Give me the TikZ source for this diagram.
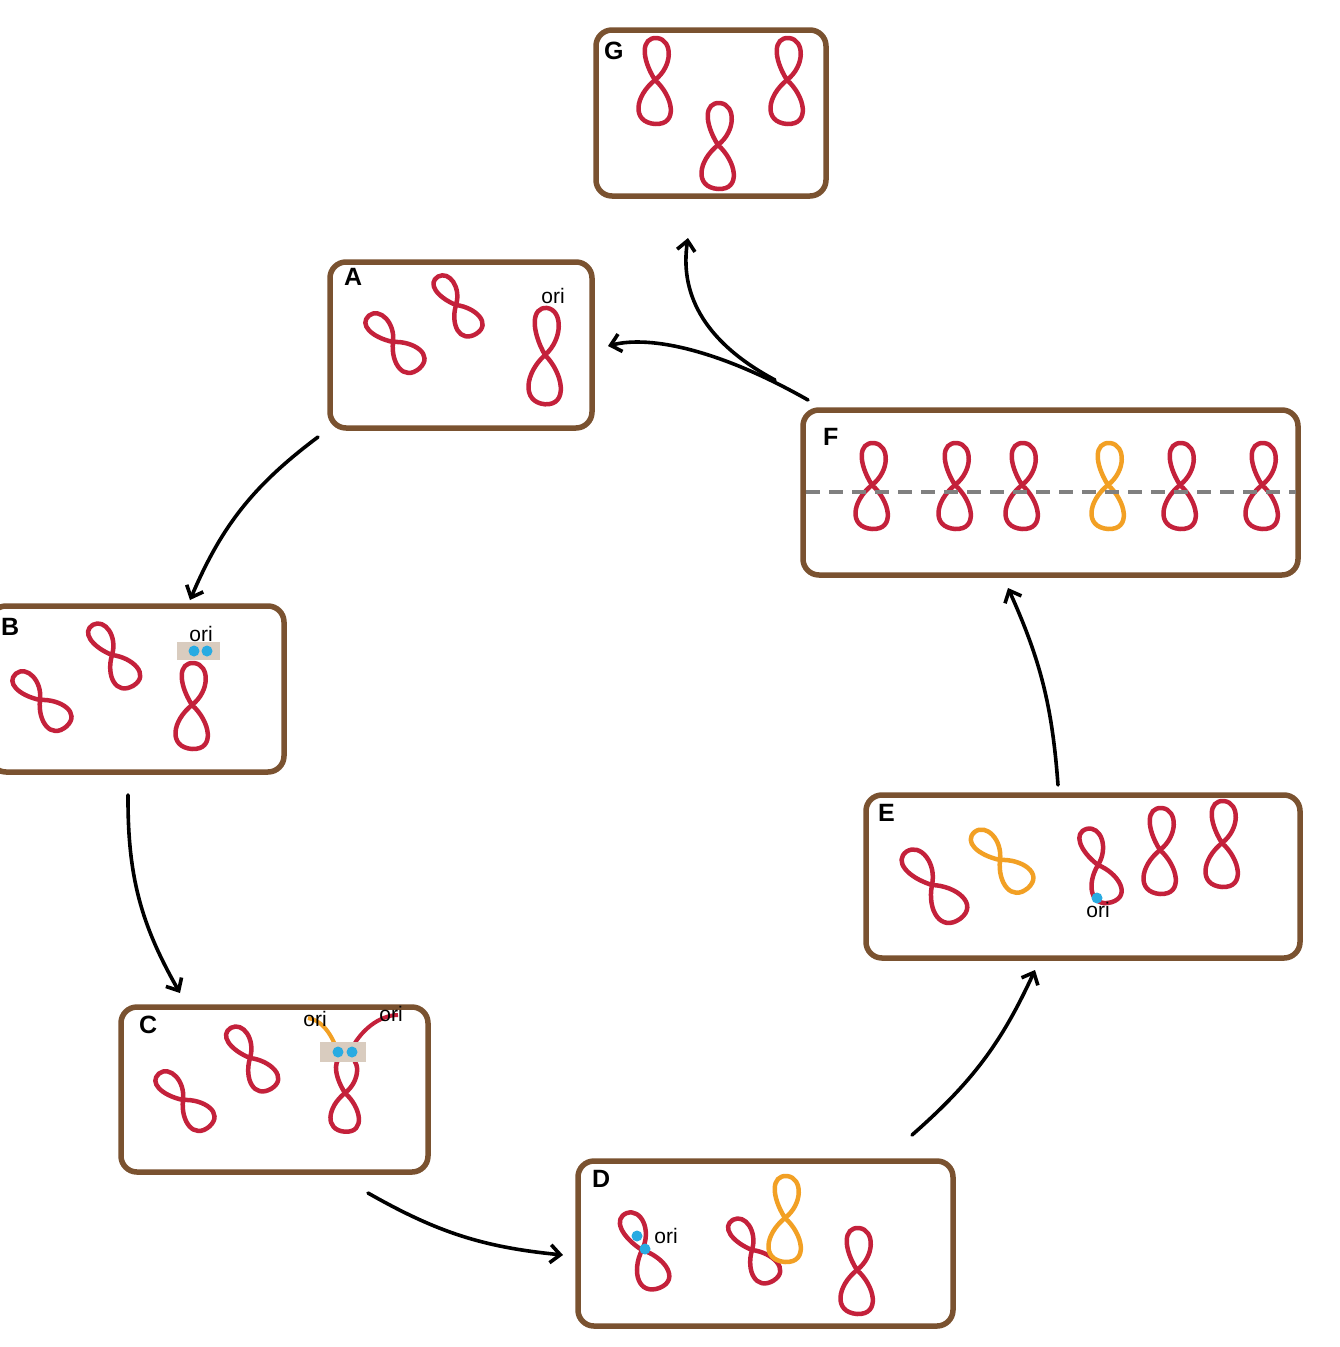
\documentclass[tikz,border=0pt]{standalone}
\usepackage{fontspec}
\setmainfont{Liberation Sans}
\usetikzlibrary{arrows.meta}
\definecolor{dred}{HTML}{C4213B}
\definecolor{dorg}{HTML}{F2A024}
\definecolor{brn}{HTML}{7A5230}
\definecolor{cyn}{HTML}{29ABE2}
\tikzset{
 cell/.style={draw=brn,line width=5.5pt,rounded corners=16pt,fill=white},
 lab/.style={font=\bfseries\fontsize{25}{27}\selectfont,anchor=north west,inner sep=0pt},
 ori/.style={font=\fontsize{21}{23}\selectfont,inner sep=0pt},
 arr/.style={draw=black,line width=3.6pt,line cap=round,-{Straight Barb[length=10pt,width=18pt,line width=3.6pt]}},
 eight/.pic={\draw[pic actions,line width=4.5pt,line join=round] (0,0) .. controls (18,-14) and (18,-40) .. (2,-42) .. controls (-14,-43) and (-14,-22) .. (0,0) .. controls (-20,16) and (-24,42) .. (0,44) .. controls (24,45) and (18,16) .. (0,0);}
}
\begin{document}
\begin{tikzpicture}[x=1pt,y=-1pt]
\useasboundingbox (0,0) rectangle (1340,1347);
% cells
\draw[cell] (596,30) rectangle (826,196);
\draw[cell] (330,262) rectangle (592,428);
\draw[cell] (803,410) rectangle (1298,575);
\draw[cell] (-10,606) rectangle (284,772);
\draw[cell] (866,795) rectangle (1300,958);
\draw[cell] (121,1007) rectangle (428,1172);
\draw[cell] (578,1161) rectangle (953,1326);
% labels
\node[lab] (lG) at (604,42) {G};
\node[lab] (lA) at (344,268) {A};
\node[lab] (lF) at (823,428) {F};
\node[lab] (lB) at (1,618) {B};
\node[lab] (lE) at (878,804) {E};
\node[lab] (lC) at (139,1016) {C};
\node[lab] (lD) at (592,1170) {D};
% G
\pic[dred] at (655,80) {eight};
\pic[dred] at (787,80) {eight};
\pic[dred] at (718,145) {eight};
% A
\pic[dred,rotate=45,scale=0.85] at (393,342) {eight};
\pic[dred,rotate=35,scale=0.8] at (456,305) {eight};
\pic[dred,yscale=1.12] at (545,355) {eight};
\node[ori] (oA) at (553,296) {ori};
% B
\pic[dred,rotate=45,scale=0.85] at (40,700) {eight};
\pic[dred,rotate=35,scale=0.85] at (112,655) {eight};
\pic[dred,yscale=1.0] at (192,705) {eight};
\fill[gray!50!brown!40] (177,642) rectangle (220,660);
\fill[cyn] (194,651) circle (5.5) (207,651) circle (5.5);
\node[ori] (oB) at (201,634) {ori};
% C
\pic[dred,rotate=45,scale=0.85] at (183,1100) {eight};
\pic[dred,rotate=35,scale=0.85] at (250,1058) {eight};
\pic[dred,scale=0.88] at (345,1093) {eight};
\draw[dorg,line width=4pt] (338,1052) .. controls (330,1030) and (320,1020) .. (308,1018);
\draw[dred,line width=4pt] (350,1052) .. controls (360,1030) and (380,1015) .. (398,1015);
\fill[gray!50!brown!40] (320,1042) rectangle (366,1062);
\fill[cyn] (338,1052) circle (5.5) (352,1052) circle (5.5);
\node[ori] (oC1) at (315,1019) {ori};
\node[ori] (oC2) at (391,1014) {ori};
% D
\pic[dred,rotate=25,scale=0.95] at (642,1250) {eight};
\fill[cyn] (637,1236) circle (5.5) (645,1249) circle (5.5);
\node[ori] (oD) at (666,1236) {ori};
\pic[dred,rotate=35,scale=0.85] at (752,1250) {eight};
\pic[dorg] at (785,1218) {eight};
\pic[dred] at (857,1270) {eight};
% E
\pic[dred,rotate=40] at (932,885) {eight};
\pic[dorg,rotate=45,scale=0.9] at (1000,860) {eight};
\pic[dred,rotate=20,scale=0.9] at (1098,865) {eight};
\fill[cyn] (1097,898) circle (5.5);
\node[ori] (oE) at (1098,910) {ori};
\pic[dred] at (1160,850) {eight};
\pic[dred] at (1222,843) {eight};
% F
\pic[dred] at (872,485) {eight};
\pic[dred] at (955,485) {eight};
\pic[dred] at (1022,485) {eight};
\pic[dorg] at (1108,485) {eight};
\pic[dred] at (1180,485) {eight};
\pic[dred] at (1262,485) {eight};
\coordinate (dl) at (806,492);
\coordinate (dr) at (1296,492);
\draw[gray,line width=4pt,dash pattern=on 14pt off 9pt] (dl) -- (dr);
% arrows
\coordinate (a1) at (318,437); \coordinate (b1) at (190,600);
\coordinate (b2) at (128,795); \coordinate (c1) at (180,993);
\coordinate (c2) at (368,1193); \coordinate (d1) at (563,1255);
\coordinate (d2) at (912,1135); \coordinate (e1) at (1035,970);
\coordinate (e2) at (1058,785); \coordinate (f1) at (1008,588);
\coordinate (f2) at (808,400); \coordinate (a2) at (608,346);
\coordinate (br) at (775,380); \coordinate (g1) at (688,238);
\draw[arr] (a1) to[bend right=15] (b1);
\draw[arr] (b2) to[bend right=15] (c1);
\draw[arr] (c2) to[bend right=12] (d1);
\draw[arr] (d2) to[bend right=12] (e1);
\draw[arr] (e2) to[bend right=10] (f1);
\draw[arr] (f2) .. controls (720,350) and (650,335) .. (a2);
\draw[arr] (br) .. controls (700,340) and (680,290) .. (g1);
\end{tikzpicture}
\end{document}
